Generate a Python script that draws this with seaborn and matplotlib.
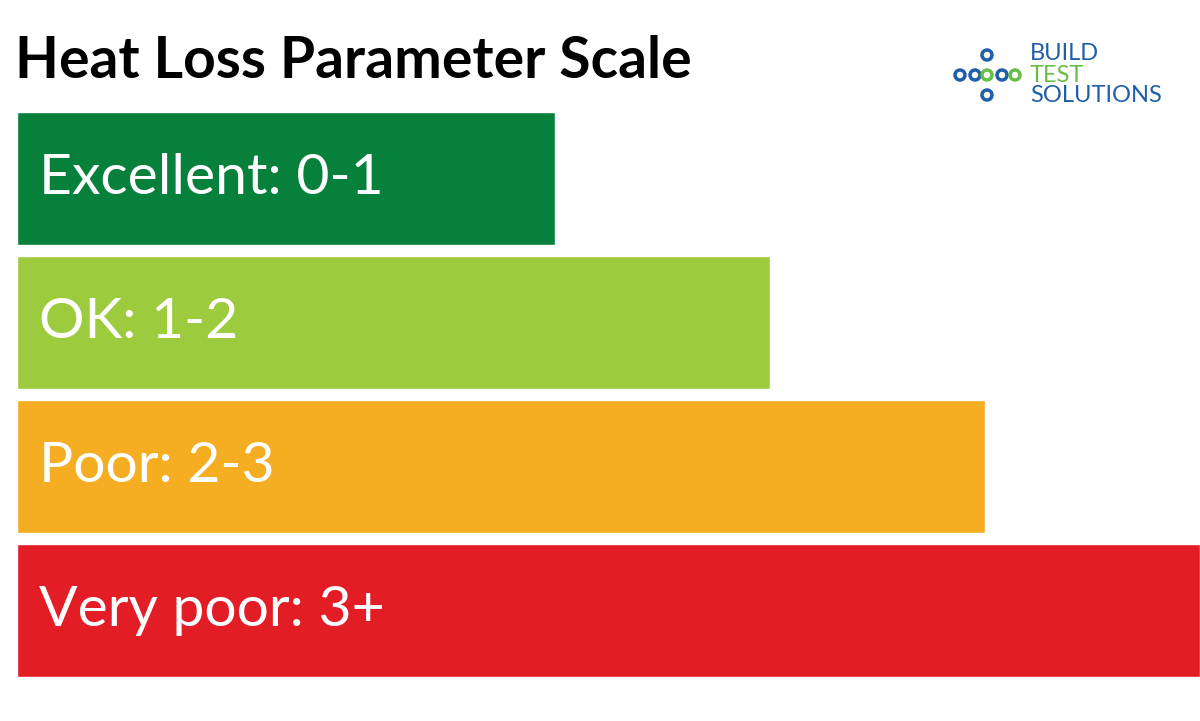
import matplotlib
matplotlib.use("Agg")
import matplotlib.pyplot as plt
import seaborn as sns
import pandas as pd

labels = ["Excellent: 0-1", "OK: 1-2", "Poor: 2-3", "Very poor: 3+"]
lengths = [2.5, 3.5, 4.5, 5.5]
colors = ["#06803A", "#9CCB3D", "#F5AD22", "#E31D25"]

sns.set_style("white")
plt.rcParams['font.family'] = ['Lato', 'DejaVu Sans']
fig = plt.figure(figsize=(12, 7.21), dpi=100)
ax = fig.add_axes([17/1200, 1-677/721, 1-17/1200, (677-112)/721])
df = pd.DataFrame({"label": labels, "length": lengths})
sns.barplot(data=df, x="length", y="label", hue="label", palette=colors,
            legend=False, width=0.92, ax=ax, saturation=1)
ax.set_xlim(0, 5.5)
ax.set_ylim(3.5 - 0.04, -0.5 + 0.04)
ax.axis("off")
for i, lab in enumerate(labels):
    ax.text(0.1, i, lab, color="white", fontsize=41, va="center", ha="left")
fig.text(15/1200, 1-62/721, "Heat Loss Parameter Scale", fontsize=41,
         fontweight="bold", va="center", ha="left", color="black")
# logo text
fig.text(1030/1200, 1-54/721, "BUILD", fontsize=17, color="#1F5FA8", va="center")
fig.text(1030/1200, 1-75/721, "TEST", fontsize=17, color="#6BBE45", va="center")
fig.text(1030/1200, 1-96/721, "SOLUTIONS", fontsize=17, color="#1F5FA8", va="center")
lax = fig.add_axes([950/1200, 1-110/721, 75/1200, 70/721])
lax.set_xlim(0, 75); lax.set_ylim(0, 70); lax.axis("off")
for (cx, cy, c) in [(10, 35, "#1F5FA8"), (25, 35, "#1F5FA8"), (37, 35, "#6BBE45"),
                    (37, 55, "#1F5FA8"), (37, 15, "#1F5FA8"), (52, 35, "#1F5FA8"),
                    (65, 35, "#6BBE45")]:
    lax.add_patch(plt.Circle((cx, cy), 5, fill=False, ec=c, lw=2.5))
fig.savefig("out.png", dpi=100)
